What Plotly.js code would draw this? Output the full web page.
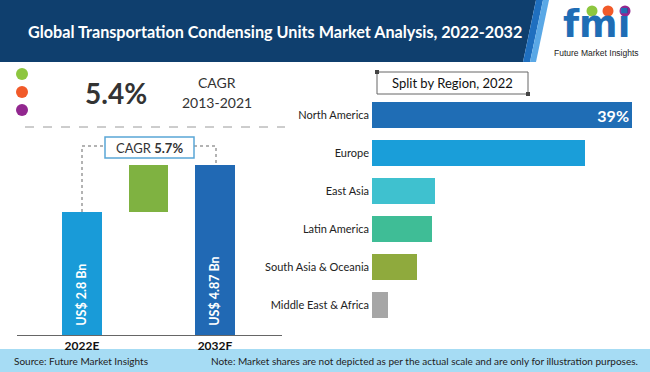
<!DOCTYPE html>
<html><head><meta charset="utf-8">
<script src="https://cdn.plot.ly/plotly-3.0.1.min.js"></script>
<style>html,body{margin:0;padding:0;background:#fff}#chart{width:650px;height:372px}</style>
</head><body><div id="chart"></div>
<script>
// ---- data ----
const titleText = 'Global Transportation Condensing Units Market Analysis, 2022-2032';
const periods = ['2022E', '2032F'];
const marketValues = [2.8, 4.87];
const valueLabels = ['US$ 2.8 Bn', 'US$ 4.87 Bn'];
const forecastCagr = '5.7%';
const historicCagr = '5.4%';
const historicPeriod = '2013-2021';
const regions = ['North America', 'Europe', 'East Asia', 'Latin America', 'South Asia & Oceania', 'Middle East & Africa'];
const regionShares = [39, 32, 9.5, 9, 6.8, 2.4];
const regionLabels = ['39%', '', '', '', '', ''];
const regionColors = ['#1f6db5', '#1a9ed9', '#3fc1cf', '#3fbd96', '#8faa3d', '#a6a6a6'];

// ---- helpers ----
const W = 650, H = 372;
const px = x => x / W, py = y => 1 - y / H;
const FONT = 'Lato, "Open Sans", sans-serif';
const axisFloor = -2.62;   // visual floor of the (not-to-scale) value axis
const gapCat = 'growth';

const waterfall = {
  type: 'bar', xaxis: 'x', yaxis: 'y',
  x: [periods[0], gapCat, periods[1]],
  base: [axisFloor, marketValues[0], axisFloor],
  y: [marketValues[0] - axisFloor, marketValues[1] - marketValues[0], marketValues[1] - axisFloor],
  width: 0.59,
  marker: {color: ['#199bd8', '#7fb241', '#2169b4'], line: {width: 0}},
  text: [valueLabels[0] + '\u2002', '', valueLabels[1] + '\u2002'].map(t => '\u2002' + t.trim()),
  textposition: 'inside', insidetextanchor: 'start', textangle: -90, constraintext: 'none',
  textfont: {color: '#ffffff', size: 12.5, family: FONT, weight: 'bold'},
  hoverinfo: 'skip', showlegend: false
};
waterfall.text[1] = '';

const regionBars = {
  type: 'bar', orientation: 'h', xaxis: 'x2', yaxis: 'y2',
  y: regions, x: regionShares, width: 0.66,
  marker: {color: regionColors, line: {width: 0}},
  text: regionLabels, textposition: 'inside', insidetextanchor: 'end', textangle: 0, constraintext: 'none',
  textfont: {color: '#ffffff', size: 16, family: FONT, weight: 'bold'},
  hoverinfo: 'skip', showlegend: false
};

function circle(cx, cy, r, color) {
  return {type: 'circle', xref: 'paper', yref: 'paper', x0: px(cx - r), x1: px(cx + r), y0: py(cy + r), y1: py(cy - r),
    fillcolor: color, line: {width: 0}};
}
function rect(x0, y0, x1, y1, fill, line) {
  return {type: 'rect', xref: 'paper', yref: 'paper', x0: px(x0), x1: px(x1), y0: py(y1), y1: py(y0),
    fillcolor: fill, line: line || {width: 0}, layer: 'below'};
}
function path(pts, fill, line) {
  const d = pts.map((p, i) => (i ? 'L' : 'M') + px(p[0]) + ',' + py(p[1])).join(' ');
  return {type: 'path', xref: 'paper', yref: 'paper', path: fill ? d + ' Z' : d,
    fillcolor: fill || 'rgba(0,0,0,0)', line: line || {width: 0}, layer: 'below'};
}

const shapes = [
  path([[0, 0], [536, 0], [523, 62], [0, 62]], '#0f3f6e'),
  path([[536, 0], [543, 0], [530, 62], [523, 62]], '#1f6fbf'),
  path([[543, 0], [549, 0], [536, 62], [530, 62]], '#5aa8e6'),
  rect(0, 349, 650, 372, '#a6dcf4'),
  {type: 'line', xref: 'paper', yref: 'paper', x0: px(25), x1: px(285), y0: py(127), y1: py(127),
    line: {color: '#9a9a9a', width: 1, dash: 'dash'}},
  circle(22, 74, 6, '#8dc63f'),
  circle(22, 92, 6, '#f15a29'),
  circle(22, 110, 6, '#92278f'),
  path([[82, 212], [82, 146], [105, 146]], null, {color: '#9a9a9a', width: 1.5, dash: 'dot'}),
  path([[194, 146], [216, 146], [216, 164]], null, {color: '#9a9a9a', width: 1.5, dash: 'dot'}),
  rect(105, 137, 194, 158, '#ffffff', {color: '#5aa6d6', width: 1.5}),
  rect(377, 72, 528, 94, '#ffffff', {color: '#666666', width: 1}),
  rect(375, 70, 379, 74, '#444444'),
  rect(526, 92, 530, 96, '#444444'),
  circle(592, 11, 5.5, '#8dc63f'),
  circle(608, 11, 5.5, '#f15a29'),
  circle(625, 11, 5.5, '#92278f')
];

function note(text, x, y, opts) {
  return Object.assign({xref: 'paper', yref: 'paper', x: px(x), y: py(y), text: text, showarrow: false,
    xanchor: 'center', yanchor: 'middle', font: {family: FONT, size: 12, color: '#333'}}, opts || {});
}

const annotations = [
  note(titleText, 26, 31, {xanchor: 'left', font: {family: FONT, size: 16.2, color: '#ffffff', weight: 'bold'}}),
  note(historicCagr, 116, 93, {font: {family: FONT, size: 28, color: '#333333', weight: 'bold'}}),
  note('CAGR', 217, 82, {font: {family: FONT, size: 14, color: '#333333'}}),
  note(historicPeriod, 217, 103, {font: {family: FONT, size: 14, color: '#333333'}}),
  note('CAGR <b>' + forecastCagr + '</b>', 149.5, 147.5, {font: {family: FONT, size: 13, color: '#333333'}}),
  note('Split by Region, 2022', 452.5, 83, {font: {family: FONT, size: 13, color: '#111111'}}),
  note('fmi', 596, 25, {font: {family: '"DejaVu Sans", sans-serif', size: 37, color: '#1f6db5', weight: 'bold'}}),
  note('Future Market Insights', 596, 53, {font: {family: '"Liberation Sans", sans-serif', size: 8.5, color: '#222222'}}),
  note('Source: Future Market Insights', 12, 361, {xanchor: 'left', font: {family: FONT, size: 10, color: '#222222'}}),
  note('Note: Market shares are not depicted as per the actual scale and are only for illustration purposes.', 640, 361,
    {xanchor: 'right', font: {family: FONT, size: 10, color: '#222222'}})
];

const layout = {
  width: W, height: H, margin: {l: 0, r: 0, t: 0, b: 0},
  paper_bgcolor: '#ffffff', plot_bgcolor: 'rgba(0,0,0,0)',
  bargap: 0, showlegend: false,
  xaxis: {domain: [px(17), px(282)], range: [-0.977, 3.008], type: 'category',
    categoryorder: 'array', categoryarray: [periods[0], gapCat, periods[1]], tickvals: periods,
    showline: true, linecolor: '#666666', linewidth: 1, ticks: '', showgrid: false, zeroline: false,
    tickfont: {family: FONT, size: 12, color: '#111111', weight: 'bold'}, anchor: 'y', fixedrange: true},
  yaxis: {domain: [py(335), py(130)], range: [axisFloor, 6.41], visible: false, fixedrange: true},
  xaxis2: {domain: [px(372), px(640)], range: [0, 40.2], visible: false, anchor: 'y2', fixedrange: true},
  yaxis2: {domain: [py(324), py(96)], type: 'category', autorange: 'reversed', anchor: 'x2',
    ticks: '', showline: false, showgrid: false, zeroline: false, ticklabelstandoff: 2,
    tickfont: {family: FONT, size: 11, color: '#222222'}, fixedrange: true},
  shapes: shapes, annotations: annotations
};

Plotly.newPlot('chart', [waterfall, regionBars], layout, {displayModeBar: false, staticPlot: true});
</script>
</body></html>
